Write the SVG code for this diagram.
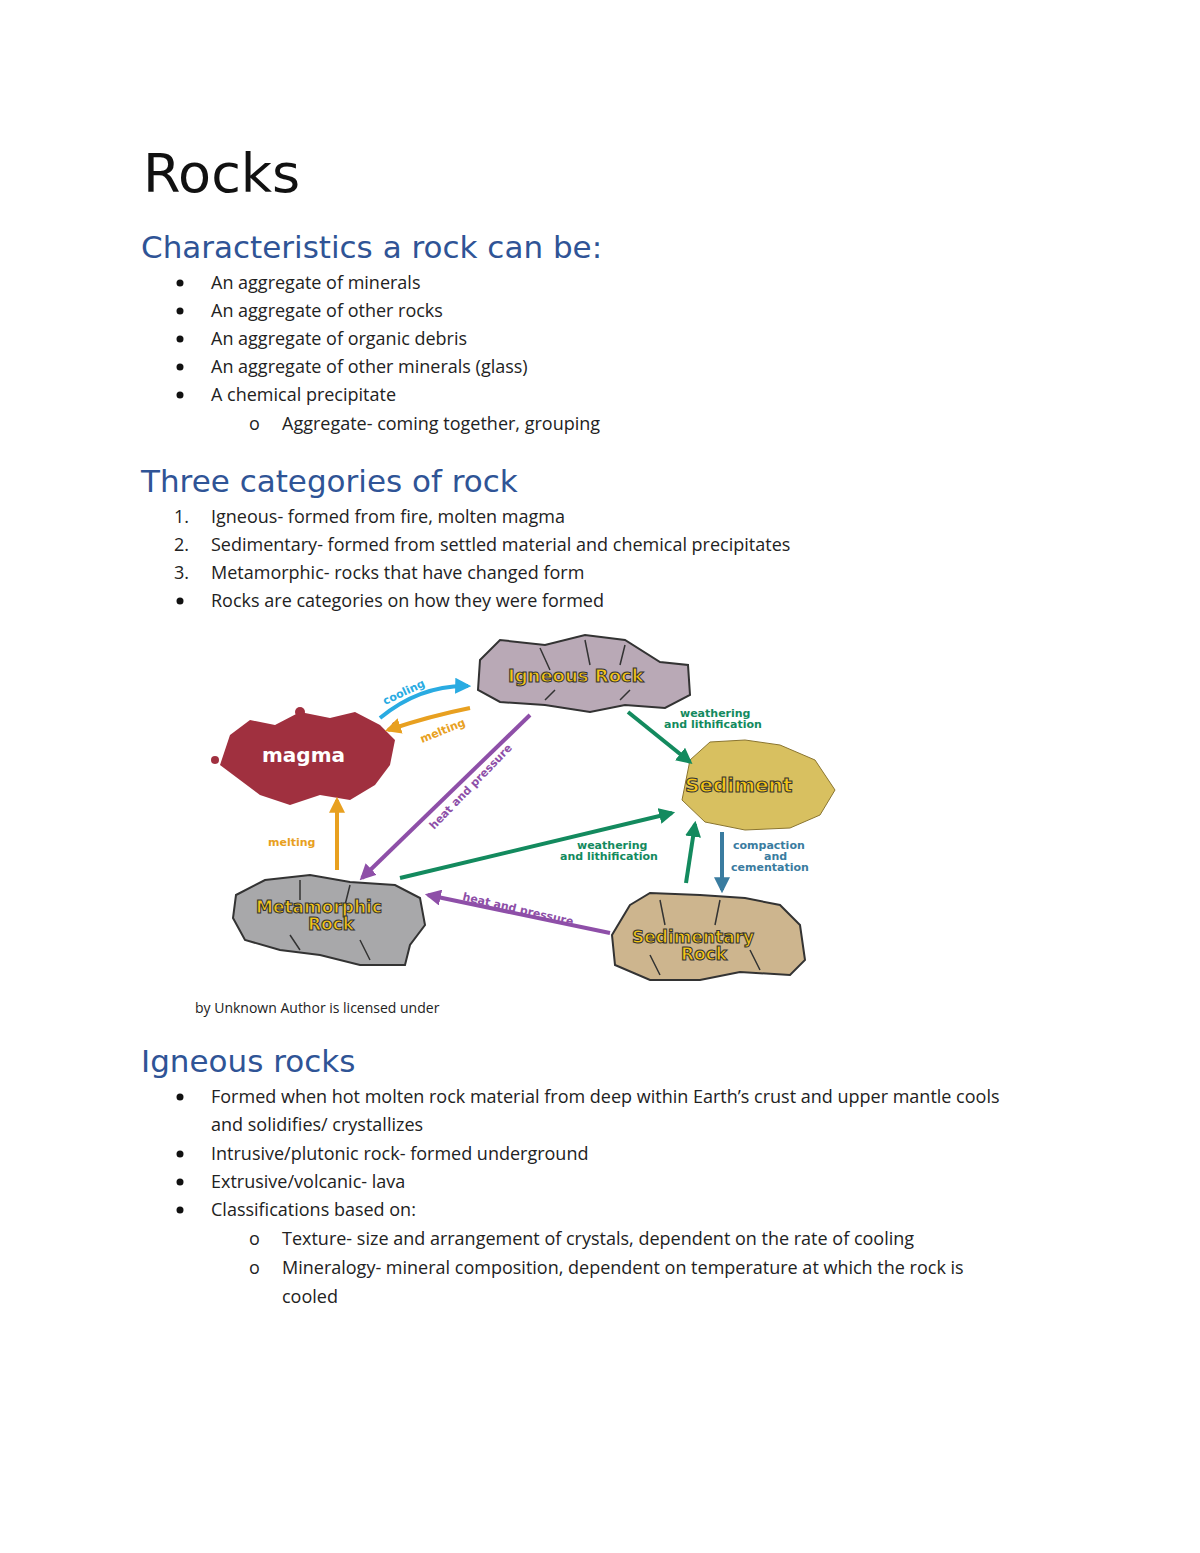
<svg xmlns="http://www.w3.org/2000/svg" width="1200" height="1553" viewBox="0 0 1200 1553">
<style>
.t{font-family:"Open Sans","Liberation Sans",sans-serif;font-size:18px;fill:#222}
.h{font-family:"DejaVu Sans",sans-serif;font-size:31px;fill:#2F5496}
.lb{font-family:"DejaVu Sans",sans-serif;font-size:11px;font-weight:bold}
.big{font-family:"DejaVu Sans",sans-serif;font-weight:bold;fill:#F5C518;stroke:#333;stroke-width:1}
.rock{stroke:#333;stroke-width:2}
.bu{fill:#111}
</style>
<defs>
<marker id="a" viewBox="0 0 10 10" refX="8" refY="5" markerWidth="4" markerHeight="4" orient="auto"><path d="M0,0L10,5L0,10z" fill="context-stroke"/></marker>
</defs>
<rect width="1200" height="1553" fill="#fff"/>
<text x="143" y="192" font-family="DejaVu Sans,sans-serif" font-size="54" fill="#111">Rocks</text>
<text class="h" x="141" y="258">Characteristics a rock can be:</text>
<g class="bu">
<circle cx="180" cy="283" r="3.5"/><circle cx="180" cy="311" r="3.5"/><circle cx="180" cy="339" r="3.5"/><circle cx="180" cy="367" r="3.5"/><circle cx="180" cy="395" r="3.5"/>
<circle cx="180" cy="601" r="3.5"/>
<circle cx="180" cy="1097" r="3.5"/><circle cx="180" cy="1154" r="3.5"/><circle cx="180" cy="1182" r="3.5"/><circle cx="180" cy="1210" r="3.5"/>
</g>
<g class="t">
<text x="211" y="289">An aggregate of minerals</text>
<text x="211" y="317">An aggregate of other rocks</text>
<text x="211" y="345">An aggregate of organic debris</text>
<text x="211" y="373">An aggregate of other minerals (glass)</text>
<text x="211" y="401">A chemical precipitate</text>
<text x="249" y="430">o</text><text x="282" y="430">Aggregate- coming together, grouping</text>
</g>
<text class="h" x="141" y="492">Three categories of rock</text>
<g class="t">
<text x="174" y="523">1.</text><text x="211" y="523">Igneous- formed from fire, molten magma</text>
<text x="174" y="551">2.</text><text x="211" y="551">Sedimentary- formed from settled material and chemical precipitates</text>
<text x="174" y="579">3.</text><text x="211" y="579">Metamorphic- rocks that have changed form</text>
<text x="211" y="607">Rocks are categories on how they were formed</text>
</g>
<g id="igneous">
<path class="rock" fill="#b9a9b6" d="M480,660L500,640L545,645L585,635L625,640L660,662L688,665L690,695L665,708L625,705L590,712L545,705L500,702L478,690Z"/>
<path fill="none" stroke="#333" stroke-width="1.5" d="M540,648L550,670M585,640L590,665M625,645L620,665M545,700L555,690M620,700L630,690"/>
<text class="big" x="508" y="682" font-size="18">Igneous Rock</text>
</g>
<g id="magma">
<path fill="#a0303f" d="M230,735L250,720L275,725L300,712L330,718L355,712L380,725L395,740L390,765L375,785L350,800L320,795L290,805L260,795L240,780L220,765Z"/>
<circle cx="215" cy="760" r="4" fill="#a0303f"/><circle cx="395" cy="725" r="3" fill="#a0303f"/><circle cx="300" cy="712" r="5" fill="#a0303f"/>
<text x="262" y="762" font-family="DejaVu Sans,sans-serif" font-weight="bold" font-size="20" fill="#fff">magma</text>
</g>
<g id="sediment">
<path fill="#d8c060" stroke="#8a7530" d="M690,760L710,742L745,740L780,745L815,760L835,790L820,815L790,828L745,830L705,822L682,800Z"/>
<text class="big" x="685" y="792" font-size="20">Sediment</text>
</g>
<g id="metamorphic">
<path class="rock" fill="#a8a8aa" d="M236,895L265,880L310,875L350,882L395,885L420,898L425,925L410,945L405,965L360,965L320,955L280,950L245,940L233,918Z"/>
<path fill="none" stroke="#333" stroke-width="1.5" d="M300,880L300,900M350,885L345,905M360,940L370,960M290,935L300,950"/>
<text class="big" x="256" y="913" font-size="17">Metamorphic</text>
<text class="big" x="308" y="930" font-size="17">Rock</text>
</g>
<g id="sedimentary">
<path class="rock" fill="#cdb58e" d="M630,905L650,893L700,895L745,898L780,905L800,925L805,960L790,975L740,972L700,980L650,980L615,965L612,935Z"/>
<path fill="none" stroke="#333" stroke-width="1.5" d="M660,900L665,925M720,900L715,925M650,955L660,975M750,950L760,970"/>
<text class="big" x="632" y="943" font-size="17">Sedimentary</text>
<text class="big" x="681" y="960" font-size="17">Rock</text>
</g>
<g id="connectors" fill="none" stroke-width="4" marker-end="url(#a)">
<path d="M380,718Q420,685 468,686" stroke="#29abe2"/>
<path d="M470,708Q430,716 388,730" stroke="#e8a020"/>
<path d="M628,712L690,762" stroke="#138a5e"/>
<path d="M530,715L362,878" stroke="#8e4fa8"/>
<path d="M337,870L337,800" stroke="#e8a020"/>
<path d="M400,878L672,813" stroke="#138a5e"/>
<path d="M686,883L695,824" stroke="#138a5e"/>
<path d="M722,832L722,890" stroke="#3a7ca0"/>
<path d="M610,933L428,895" stroke="#8e4fa8"/>
</g>
<g class="lb">
<text x="385" y="705" fill="#29abe2" transform="rotate(-25 385 705)">cooling</text>
<text x="422" y="743" fill="#e8a020" transform="rotate(-22 422 743)">melting</text>
<text x="680" y="717" fill="#138a5e">weathering</text>
<text x="664" y="728" fill="#138a5e">and lithification</text>
<text x="434" y="830" fill="#8e4fa8" transform="rotate(-46 434 830)">heat and pressure</text>
<text x="268" y="846" fill="#e8a020">melting</text>
<text x="577" y="849" fill="#138a5e">weathering</text>
<text x="560" y="860" fill="#138a5e">and lithification</text>
<text x="733" y="849" fill="#3a7ca0">compaction</text>
<text x="764" y="860" fill="#3a7ca0">and</text>
<text x="731" y="871" fill="#3a7ca0">cementation</text>
<text x="462" y="900" fill="#8e4fa8" transform="rotate(13 462 900)">heat and pressure</text>
</g>
<text x="195" y="1013" font-family="Open Sans,Liberation Sans,sans-serif" font-size="14" fill="#222">by Unknown Author is licensed under</text>
<text class="h" x="141" y="1072">Igneous rocks</text>
<g class="t">
<text x="211" y="1103">Formed when hot molten rock material from deep within Earth’s crust and upper mantle cools</text>
<text x="211" y="1131">and solidifies/ crystallizes</text>
<text x="211" y="1160">Intrusive/plutonic rock- formed underground</text>
<text x="211" y="1188">Extrusive/volcanic- lava</text>
<text x="211" y="1216">Classifications based on:</text>
<text x="249" y="1245">o</text><text x="282" y="1245">Texture- size and arrangement of crystals, dependent on the rate of cooling</text>
<text x="249" y="1274">o</text><text x="282" y="1274">Mineralogy- mineral composition, dependent on temperature at which the rock is</text>
<text x="282" y="1303">cooled</text>
</g>
</svg>
